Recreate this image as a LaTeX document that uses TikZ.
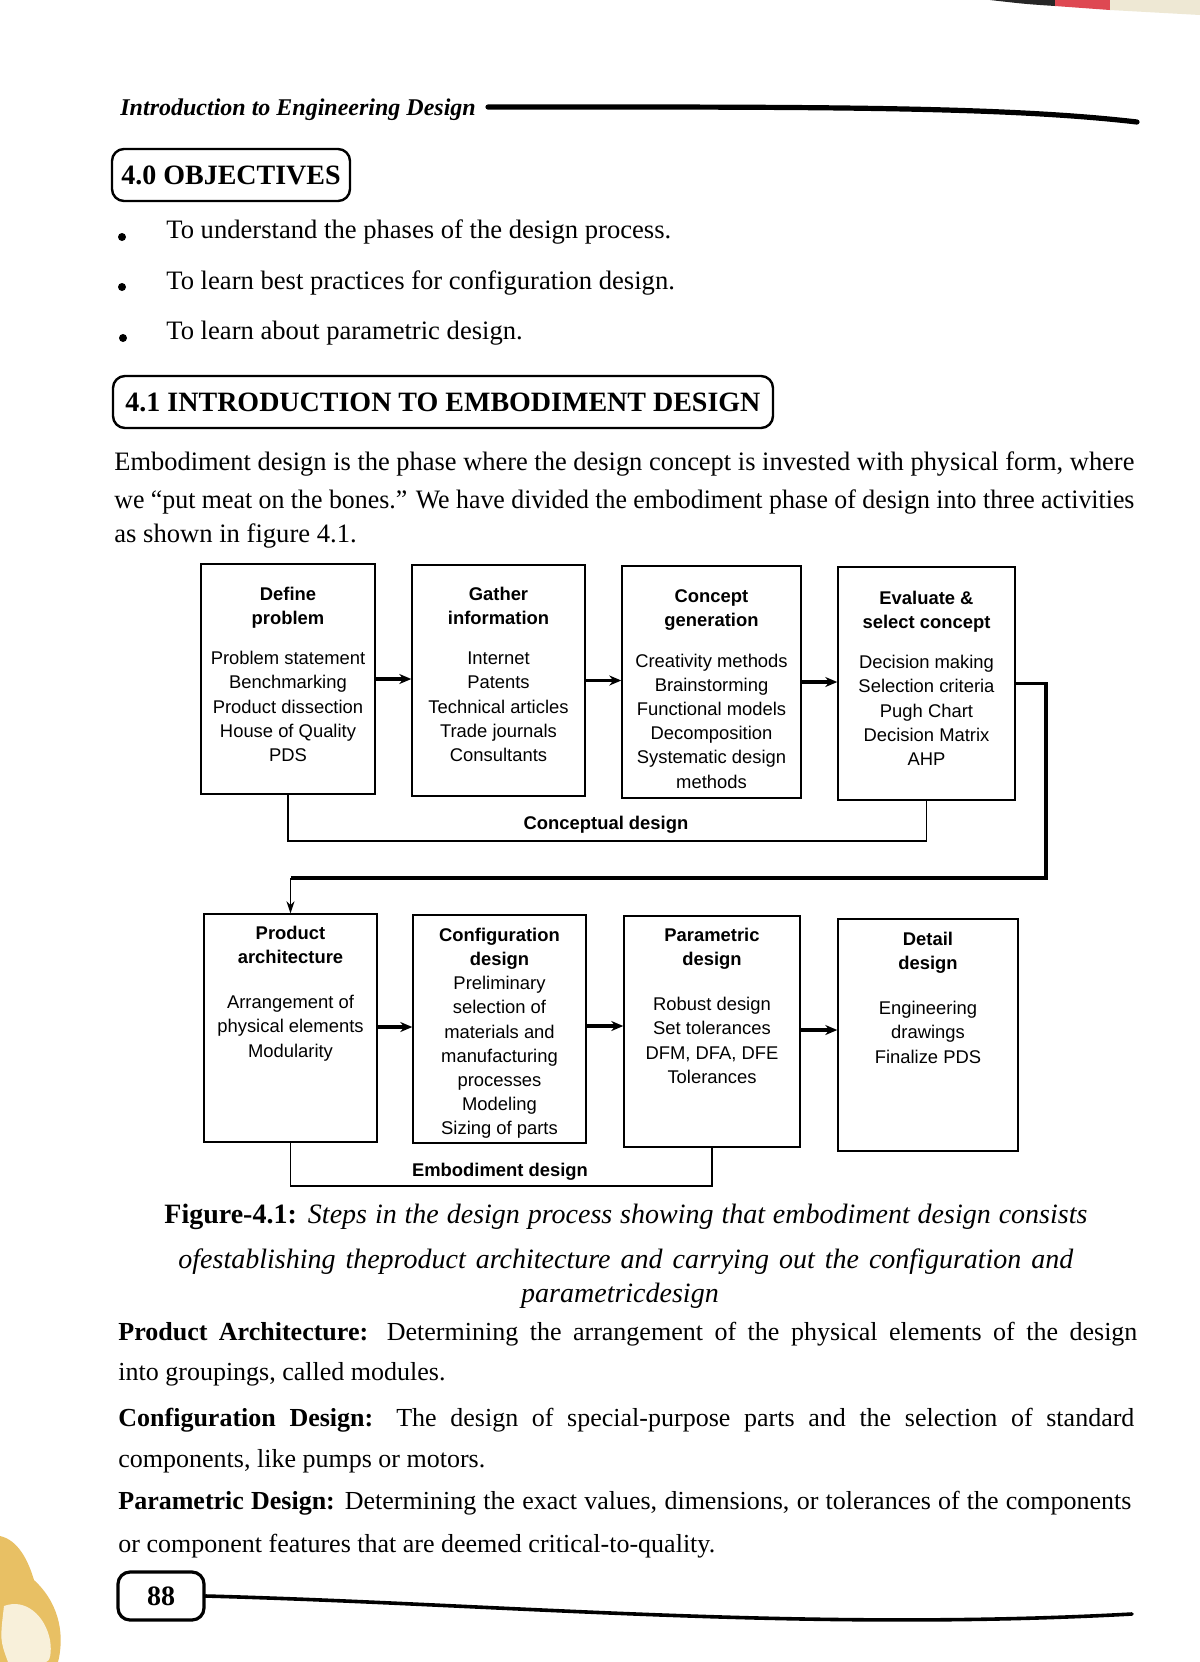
\documentclass[tikz,border=0pt]{standalone}
\usepackage{fontspec}
\setmainfont{Liberation Serif}
\setsansfont{Liberation Sans}
\usepackage{graphicx}
\usetikzlibrary{arrows.meta}
\definecolor{streakred}{RGB}{222,72,82}
\definecolor{streakcream}{RGB}{238,232,212}
\definecolor{fingeryel}{RGB}{232,192,100}
\definecolor{fingerlight}{RGB}{248,240,218}
\newlength\jw
\newcommand\fitline[2]{\settowidth\jw{#2}\ifdim\jw>#1\relax\pgfmathsetmacro\jr{#1/\jw}\scalebox{\jr}[1]{#2}\else\makebox[#1][s]{#2}\fi}
\tikzset{
  box/.style={draw, line width=0.7pt, inner sep=0pt},
  btxt/.style={font=\sffamily\fontsize{9.2}{12.1}\selectfont, align=center, inner sep=0pt, anchor=north},
  blabel/.style={font=\sffamily\bfseries\fontsize{9.2}{12.1}\selectfont, inner sep=0pt},
  arr/.style={line width=1.6pt, -{Stealth[length=6pt,width=5pt]}},
  ret/.style={line width=1.6pt},
  drop/.style={line width=0.8pt, -{Stealth[length=6pt,width=4pt]}},
  brk/.style={line width=0.7pt},
  body/.style={font=\fontsize{13.3}{16}\selectfont, anchor=base west, inner sep=0pt},
  para/.style={font=\fontsize{13}{16}\selectfont, anchor=base west, inner sep=0pt},
  capt/.style={font=\fontsize{14}{17}\selectfont\itshape, anchor=base west, inner sep=0pt},
  hbox/.style={draw, line width=1.2pt, rounded corners=6pt, inner sep=0pt, font=\fontsize{14}{17}\selectfont\bfseries},
  rule/.style={line width=2.4pt, line cap=round}
}
\begin{document}
\begin{tikzpicture}[x=0.5pt,y=-0.5pt]
\useasboundingbox (0,0) rectangle (1200,1662);
\fill[white] (0,0) rectangle (1200,1662);

% scan artifacts: streak at top right, finger at bottom left
\fill[black!85] (990,0) -- (1055,0) -- (1055,6) .. controls (1025,4) .. (990,0) -- cycle;
\fill[streakred] (1055,0) -- (1110,0) -- (1110,10) -- (1055,6) -- cycle;
\fill[streakcream] (1110,0) -- (1200,0) -- (1200,15) -- (1110,10) -- cycle;
\fill[fingeryel] (0,1536) .. controls (18,1540) and (28,1560) .. (34,1580)
  .. controls (56,1600) and (66,1630) .. (58,1662) -- (0,1662) -- cycle;
\fill[fingerlight] (4,1606) .. controls (25,1598) and (45,1615) .. (50,1640)
  .. controls (52,1652) and (50,1662) .. (46,1662) -- (8,1662) .. controls (0,1640) .. (4,1606) -- cycle;

% header
\node[anchor=base west, inner sep=0pt, font=\fontsize{12}{14}\selectfont\bfseries\itshape] (hdr) at (120,115) {Introduction to Engineering Design};
\coordinate (h1) at (488,107);
\coordinate (h2) at (1137,122);
\draw[rule, line width=2.6pt] (h1) .. controls (800,107) and (1000,106) .. (h2);

% objectives
\node[hbox, minimum width=119pt, minimum height=26pt] (obj) at (231,175) {4.0 OBJECTIVES};
\fill (122,237) circle[radius=4];
\fill (122,287) circle[radius=4];
\fill (123,338) circle[radius=4];
\node[body] (o1) at (166,238) {To understand the phases of the design process.};
\node[body] (o2) at (166,289) {To learn best practices for configuration design.};
\node[body] (o3) at (166,339) {To learn about parametric design.};

% section 4.1
\node[hbox, minimum width=330pt, minimum height=26pt] (sec) at (443,402) {4.1 INTRODUCTION TO EMBODIMENT DESIGN};
\node[body] (p1) at (114,470) {\fitline{510pt}{Embodiment design is the phase where the design concept is invested with physical form, where}};
\node[body] (p2) at (114,508) {\fitline{510pt}{we “put meat on the bones.” We have divided the embodiment phase of design into three activities}};
\node[body] (p3) at (114,542) {as shown in figure 4.1.};

% diagram row 1
\node[box, minimum width=87pt, minimum height=115pt] (b1) at (288,679) {};
\node[box, minimum width=86.5pt, minimum height=115.5pt] (b2) at (498.5,680.5) {};
\node[box, minimum width=89.5pt, minimum height=116pt] (b3) at (711.5,682) {};
\node[box, minimum width=88.5pt, minimum height=116.5pt] (b4) at (926.5,683.5) {};
\node[btxt] (t1) at (288,586.5) {\textbf{Define}\\\textbf{problem}\\[8pt]Problem statement\\Benchmarking\\Product dissection\\House of Quality\\PDS};
\node[btxt] (t2) at (498.5,586.5) {\textbf{Gather}\\\textbf{information}\\[8pt]Internet\\Patents\\Technical articles\\Trade journals\\Consultants};
\node[btxt] (t3) at (711.5,589.5) {\textbf{Concept}\\\textbf{generation}\\[8pt]Creativity methods\\Brainstorming\\Functional models\\Decomposition\\Systematic design\\methods};
\node[btxt] (t4) at (926.5,590.5) {\textbf{Evaluate \&}\\\textbf{select concept}\\[8pt]Decision making\\Selection criteria\\Pugh Chart\\Decision Matrix\\AHP};
\draw[arr] (b1.east) -- (b1.east -| b2.west);
\draw[arr] (b2.east) -- (b2.east -| b3.west);
\draw[arr] (b3.east) -- (b3.east -| b4.west);

% conceptual bracket
\coordinate (c1) at (600,841);
\draw[brk] (b1.south) |- (c1) -| (b4.south);
\node[blabel] (l1) at (606,825) {Conceptual design};

% diagram row 2
\node[box, minimum width=86.5pt, minimum height=114pt] (b5) at (290.5,1028) {};
\node[box, minimum width=86.5pt, minimum height=114pt] (b6) at (499.5,1029) {};
\node[box, minimum width=88pt, minimum height=115.5pt] (b7) at (712,1031.5) {};
\node[box, minimum width=90pt, minimum height=116pt] (b8) at (928,1035) {};
\node[btxt] (t5) at (290.5,925.5) {\textbf{Product}\\\textbf{architecture}\\[10.5pt]Arrangement of\\physical elements\\Modularity};
\node[btxt] (t6) at (499.5,927.5) {\textbf{Configuration}\\\textbf{design}\\Preliminary\\selection of\\materials and\\manufacturing\\processes\\Modeling\\Sizing of parts};
\node[btxt] (t7) at (712,927.5) {\textbf{Parametric}\\\textbf{design}\\[10.5pt]Robust design\\Set tolerances\\DFM, DFA, DFE\\Tolerances};
\node[btxt] (t8) at (928,931.5) {\textbf{Detail}\\\textbf{design}\\[10.5pt]Engineering\\drawings\\Finalize PDS};
\draw[arr] (b5.east |- 0,1027) -- (b6.west |- 0,1027);
\draw[arr] (b6.east |- 0,1026) -- (b7.west |- 0,1026);
\draw[arr] (b7.east |- 0,1030) -- (b8.west |- 0,1030);

% return line
\coordinate (r1) at (1046,878);
\coordinate (r2) at (290.5,878);
\draw[ret] (b4.east) -| (r1) -- (r2);
\draw[drop] (r2) -- (b5.north);

% embodiment bracket
\coordinate (c2) at (500,1186);
\draw[brk] (b5.south) |- (c2) -| (b7.south);
\node[blabel] (l2) at (500,1172) {Embodiment design};

% caption
\node[capt] (f1) at (164,1223) {\fitline{461.5pt}{{\upshape\bfseries Figure-4.1:} Steps in the design process showing that embodiment design consists}};
\node[capt] (f2) at (178,1268) {\fitline{447.5pt}{ofestablishing theproduct architecture and carrying out the configuration and}};
\node[capt, anchor=base] (f3) at (620,1302) {parametricdesign};

% definitions
\node[para] (d1) at (118,1340) {\fitline{509.5pt}{\textbf{Product Architecture:} Determining the arrangement of the physical elements of the design}};
\node[para] (d2) at (118,1380) {into groupings, called modules.};
\node[para] (d3) at (118,1426) {\fitline{508pt}{\textbf{Configuration Design:} The design of special-purpose parts and the selection of standard}};
\node[para] (d4) at (118,1467) {components, like pumps or motors.};
\node[para] (d5) at (118,1509) {\fitline{506.5pt}{\textbf{Parametric Design:} Determining the exact values, dimensions, or tolerances of the components}};
\node[para] (d6) at (118,1552) {or component features that are deemed critical-to-quality.};

% page number
\node[hbox, line width=1.6pt, minimum width=43pt, minimum height=24pt] (pg) at (161,1596) {88};
\coordinate (f9) at (1132,1614);
\draw[rule, line width=1.8pt] (pg.east) .. controls (500,1604) and (800,1632) .. (f9);
\end{tikzpicture}
\end{document}
